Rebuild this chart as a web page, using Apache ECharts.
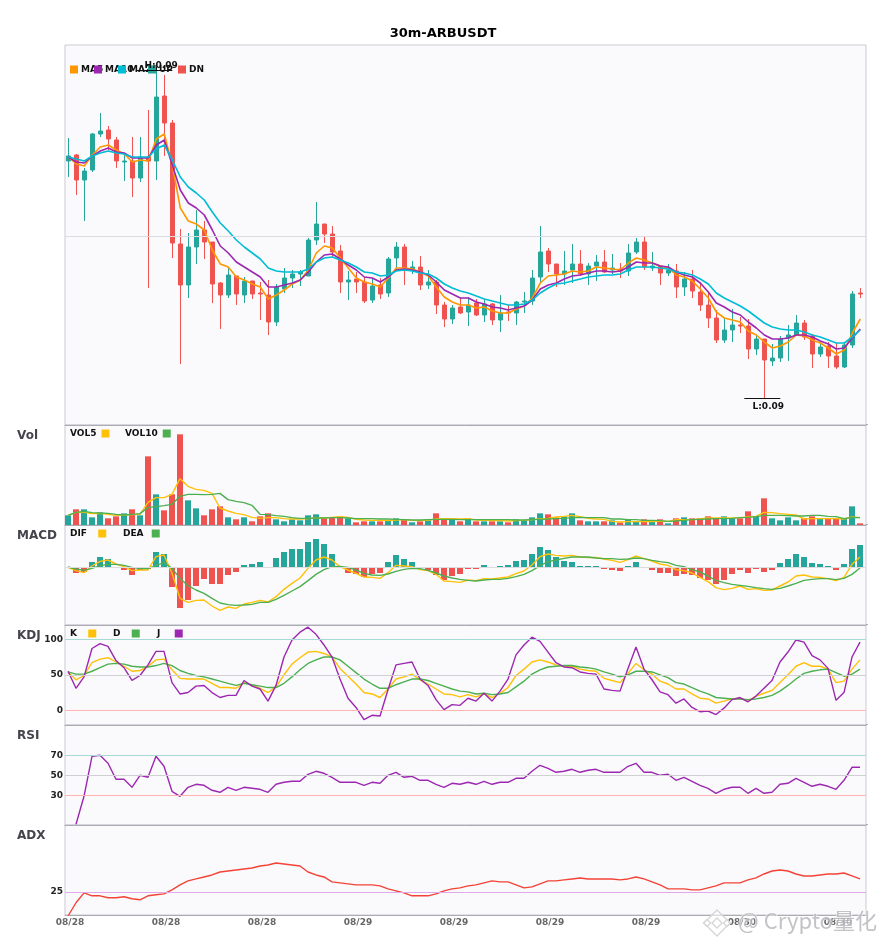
<!DOCTYPE html>
<html>
<head>
<meta charset="utf-8">
<style>html,body{margin:0;padding:0;background:#fff}#c{width:885px;height:950px}</style>
<script src="https://cdn.jsdelivr.net/npm/echarts@6/dist/echarts.min.js"></script>
</head>
<body>
<div id="c"></div>
<script>
// Prices are in units of 0.00001 USDT
const opens=[9075,9081,9056,9066,9102,9106,9096,9074,9075,9058,9079,9075,9140,9113,8992,8951,8989,9006,8994,8953,8941,8960,8941,8955,8943,8941,8914,8947,8958,8962,8960,8996,9012,9002,8985,8954,8957,8954,8936,8951,8943,8978,8989,8967,8969,8951,8954,8931,8917,8929,8924,8933,8921,8932,8916,8924,8923,8934,8935,8959,8985,8972,8962,8966,8972,8962,8970,8974,8966,8967,8965,8984,8994,8968,8970,8963,8965,8949,8957,8944,8931,8918,8896,8906,8911,8910,8887,8897,8875,8878,8898,8901,8913,8900,8882,8890,8880,8869,8891,8943];
const closes=[9080,9056,9065,9102,9105,9097,9075,9075,9058,9079,9075,9139,9113,8993,8951,8989,9006,8994,8952,8941,8961,8942,8955,8942,8942,8914,8949,8958,8962,8964,8996,9012,9002,8984,8954,8956,8954,8935,8950,8942,8977,8989,8968,8969,8951,8954,8931,8917,8928,8923,8931,8921,8932,8916,8923,8923,8934,8935,8958,8984,8972,8962,8965,8972,8962,8970,8974,8964,8968,8965,8983,8994,8969,8970,8963,8966,8949,8957,8945,8931,8918,8896,8906,8911,8910,8887,8897,8876,8878,8897,8901,8913,8899,8882,8889,8880,8869,8891,8942,8942];
const lows=[9059,9041,9015,9064,9099,9086,9068,9055,9039,9054,8948,9056,9080,8978,8872,8938,8972,8977,8933,8907,8938,8931,8933,8937,8916,8901,8910,8943,8948,8950,8960,8991,8993,8978,8943,8936,8943,8933,8933,8937,8939,8966,8951,8962,8946,8947,8922,8909,8912,8922,8910,8920,8914,8911,8904,8915,8911,8923,8931,8954,8964,8949,8951,8953,8960,8951,8955,8963,8962,8958,8960,8982,8966,8965,8951,8960,8938,8940,8938,8925,8908,8893,8893,8894,8903,8877,8881,8838,8870,8874,8875,8900,8896,8868,8879,8868,8867,8868,8888,8938];
const highs=[9098,9082,9068,9103,9123,9110,9099,9082,9099,9099,9126,9166,9161,9116,9007,9003,9026,9015,8994,8954,8968,8960,8959,8955,8954,8956,8952,8968,8966,8966,8998,9034,9012,9010,8991,8965,8964,8959,8957,8958,8979,8994,8992,8975,8980,8966,8956,8934,8931,8938,8939,8937,8937,8933,8941,8931,8935,8944,8966,9010,8988,8972,8985,8992,8986,8973,8981,8986,8982,8973,8992,8998,9000,8984,8970,8972,8972,8964,8966,8952,8944,8926,8918,8927,8919,8917,8901,8897,8892,8900,8911,8921,8916,8902,8894,8894,8893,8894,8945,8948];
const ma5=[9079,9072,9070,9081,9089,9091,9086,9082,9074,9076,9075,9097,9102,9071,9028,9015,9012,9006,8986,8972,8969,8959,8956,8952,8949,8937,8941,8946,8952,8956,8966,8983,8990,8988,8978,8968,8958,8954,8952,8949,8958,8968,8968,8967,8964,8960,8949,8939,8934,8931,8931,8928,8929,8925,8923,8923,8927,8930,8938,8953,8960,8961,8962,8965,8964,8965,8969,8968,8967,8966,8973,8978,8976,8973,8970,8968,8961,8959,8955,8947,8938,8924,8918,8916,8914,8905,8901,8894,8888,8890,8894,8901,8900,8896,8893,8888,8882,8886,8903,8917];
const ma10=[9079,9074,9073,9080,9085,9088,9084,9083,9078,9078,9078,9091,9096,9071,9046,9033,9028,9021,9006,8990,8983,8974,8969,8964,8959,8949,8949,8951,8953,8956,8964,8974,8981,8982,8977,8971,8966,8959,8958,8954,8959,8966,8967,8966,8964,8961,8954,8946,8942,8938,8938,8934,8932,8929,8928,8926,8928,8930,8936,8947,8951,8953,8957,8960,8961,8963,8965,8965,8964,8965,8969,8974,8973,8973,8970,8969,8964,8961,8959,8953,8944,8933,8929,8924,8921,8914,8908,8901,8897,8897,8898,8901,8901,8899,8895,8892,8887,8888,8898,8907];
const ma20=[9079,9077,9075,9080,9083,9085,9083,9082,9079,9079,9079,9087,9091,9076,9059,9049,9043,9036,9024,9013,9005,8996,8989,8983,8977,8968,8965,8964,8964,8964,8967,8974,8978,8979,8976,8973,8969,8964,8963,8960,8961,8965,8966,8965,8963,8962,8958,8952,8948,8945,8943,8940,8937,8935,8933,8931,8931,8932,8936,8943,8948,8952,8953,8955,8957,8959,8960,8961,8961,8962,8966,8969,8969,8969,8968,8967,8964,8963,8961,8957,8952,8943,8938,8934,8930,8925,8919,8913,8909,8907,8906,8906,8904,8901,8899,8896,8893,8893,8899,8906];
const volumes=[29,47,47,23,38,20,26,35,47,29,206,92,44,92,272,74,50,29,47,56,23,17,23,11,26,35,17,11,17,14,29,32,20,23,26,20,8,11,11,11,14,20,17,8,11,14,35,20,17,11,20,11,11,11,11,8,17,14,23,35,32,23,26,35,14,11,11,11,14,8,17,11,17,11,17,5,20,23,20,20,26,20,26,20,20,41,26,80,20,14,23,14,20,26,20,20,20,20,56,5];
const vol5=[29,38,38,34,35,32,29,30,31,32,68,82,82,92,139,116,107,104,95,51,42,35,31,23,20,22,22,19,18,18,19,21,21,23,25,23,17,15,14,14,13,15,16,14,13,14,18,19,19,18,19,15,14,13,13,12,13,14,16,18,20,24,26,29,25,20,18,17,11,9,10,10,10,10,12,11,16,16,16,18,21,21,21,21,22,24,26,38,37,34,32,30,18,19,19,19,19,18,24,22];
const vol10=[29,38,41,37,36,35,32,30,32,34,53,55,58,62,86,92,92,91,92,95,76,71,67,59,32,31,28,26,22,20,20,21,21,22,22,21,19,19,19,18,18,17,16,15,15,16,17,17,17,16,16,16,16,16,16,16,15,15,16,17,18,19,20,22,23,22,22,22,18,18,16,16,14,14,13,11,12,14,16,17,18,19,19,20,22,23,25,29,29,29,28,27,27,29,29,26,25,19,23,22];
const macdHist=[0,-18,-15,15,30,24,0,-9,-24,-9,-6,45,39,-60,-123,-99,-57,-36,-51,-51,-24,-15,6,9,15,0,27,45,54,54,75,84,69,39,-3,-18,-21,-30,-21,-18,15,36,24,15,-3,-9,-24,-39,-27,-21,-6,-6,6,0,3,6,18,21,39,60,51,30,18,15,3,3,3,-6,-9,-12,3,15,-3,-9,-18,-18,-27,-21,-24,-33,-39,-51,-39,-21,-9,-18,-6,-15,-9,12,24,39,30,12,9,3,-9,9,54,66];
const dif=[-1,-11,-17,3,17,21,9,1,-11,-9,-9,31,36,-19,-94,-106,-100,-99,-117,-130,-120,-124,-111,-106,-100,-105,-89,-67,-49,-33,-4,21,30,21,1,-9,-19,-30,-31,-34,-17,5,3,1,-8,-11,-22,-42,-44,-46,-39,-41,-35,-36,-33,-30,-20,-12,6,31,39,35,33,35,30,28,29,24,20,14,22,33,25,18,9,5,-8,-11,-18,-31,-44,-62,-68,-64,-57,-67,-65,-70,-69,-57,-45,-27,-24,-30,-31,-35,-41,-31,8,30];
const dea=[0,-6,-10,-4,4,8,8,5,-1,-5,-5,5,13,-4,-34,-56,-69,-79,-94,-108,-113,-115,-114,-112,-106,-106,-97,-85,-72,-59,-41,-22,-8,1,2,-1,-9,-19,-24,-25,-21,-13,-7,-4,-5,-10,-18,-27,-33,-37,-40,-42,-39,-37,-37,-34,-29,-22,-11,4,16,21,26,30,30,30,27,25,25,23,24,27,25,20,16,13,5,1,-8,-15,-27,-40,-47,-52,-55,-58,-62,-65,-67,-64,-57,-49,-40,-37,-35,-35,-38,-34,-22,-3];
const kdjK=[54,43,49,67,72,74,68,62,55,56,62,71,72,57,45,44,44,44,38,32,32,31,39,35,31,25,33,50,65,74,82,83,80,75,59,48,37,25,23,18,30,44,47,51,43,37,30,23,22,19,22,19,23,18,24,32,49,58,68,71,68,64,62,62,58,56,55,45,42,39,52,66,57,51,41,37,30,30,23,17,16,10,13,16,17,13,20,24,28,39,50,62,67,62,62,58,39,41,58,71];
const kdjD=[54,51,51,55,60,65,66,65,62,61,61,63,66,63,56,52,49,47,44,41,38,35,38,36,34,32,32,38,47,57,66,71,75,75,71,62,53,44,37,31,31,36,40,44,44,42,38,34,30,27,26,23,24,22,23,25,33,41,51,57,61,62,63,63,61,60,58,54,51,47,50,55,55,54,50,46,39,37,32,27,23,18,17,16,16,15,16,18,21,27,35,44,52,55,57,58,53,48,51,58];
const kdjJ=[55,31,47,87,94,90,70,60,42,49,64,83,83,39,23,25,34,35,25,18,21,21,42,34,30,13,35,75,99,110,117,107,92,75,44,17,4,-13,-7,-8,29,64,66,68,44,35,15,1,8,7,17,13,24,13,27,44,78,92,103,97,82,67,61,60,54,52,51,30,28,27,59,89,58,43,26,22,10,16,4,-2,-1,-6,3,15,18,12,20,31,42,68,82,99,96,77,71,59,14,25,75,96];
const rsi=[null,1,29,69,70,62,46,46,38,50,48,69,59,34,29,38,41,40,35,33,38,35,38,37,36,33,41,43,44,44,51,54,52,48,43,43,43,40,43,42,50,53,48,49,45,45,41,38,42,41,43,41,44,41,43,43,47,47,54,60,57,53,54,56,53,55,56,53,53,53,59,62,53,53,50,51,45,48,44,40,37,32,36,38,38,32,37,32,33,41,42,47,43,39,41,39,36,45,58,58];
const adx=[6.75,16.75,24.25,22,22,20.5,20.5,21.25,19.75,19,22,22.75,23.5,26.5,30.25,33.25,34.75,36.25,37.75,40,40.75,41.5,42.25,43,44.5,45.25,46.75,46,45.25,44.5,40,37.75,36.25,32.5,31.75,31,30.25,30.25,30.25,29.5,27.25,25.75,24.25,22,22,22,23.5,25.75,27.25,28,29.5,30.25,31.75,33.25,32.5,32.5,30.25,28,28.75,31,33.25,33.25,34,34.75,35.5,34.75,34.75,34.75,34.75,34,34.75,36.25,34.75,32.5,30.25,27.25,27.25,27.25,26.5,26.5,28,29.5,31.75,31.75,31.75,34,35.5,38.5,40.75,41.5,40.75,38.5,37,37,37.75,38.5,38.5,39.25,37,34.75];
const tickIndices=[0,12,24,36,48,60,72,84,96];
const tickLabels=['08/28','08/28','08/28','08/29','08/29','08/29','08/29','08/30','08/30'];

const UP='#26A69A', DN='#EF5350', FONT='"DejaVu Sans"';
const C={ma5:'#FF9800',ma10:'#9C27B0',ma20:'#00BCD4',k:'#FFC107',d:'#4CAF50',j:'#9C27B0',adx:'#F44336'};
const idx=opens.map((_,i)=>i);
const pts=a=>a.map((v,i)=>[i,v]);
const dirColor=i=>closes[i]>=opens[i]?UP:DN;

const gridsPos=[[45,380],[425,100],[525,100],[625,100],[725,100],[825,90]];
const grid=gridsPos.map(([top,height])=>({left:65,width:801,top,height,show:true,backgroundColor:'#FAFAFC',borderColor:'#C9C9D3',borderWidth:1}));
const xAxis=gridsPos.map((_,g)=>({
  type:'value',gridIndex:g,min:g===0?-0.4125:-0.375,max:g===0?99.7125:99.75,
  axisLine:{show:true,onZero:false,lineStyle:{color:'#ABABB3',width:1}},
  axisTick:{show:false},splitLine:{show:false},
  axisLabel:g===5?{show:true,customValues:tickIndices,margin:3,padding:[0,0,0,4],color:'#666',fontFamily:FONT,fontWeight:'bold',fontSize:9,
    formatter:v=>tickLabels[tickIndices.indexOf(v)]||''}:{show:false}
}));
const yBase=(g,min,max,labels)=>({type:'value',gridIndex:g,min,max,scale:true,
  axisLine:{show:false},axisTick:{show:false},splitLine:{show:false},
  axisLabel:labels?{show:true,customValues:labels,margin:2,color:'#222',fontFamily:FONT,fontWeight:'bold',fontSize:9}:{show:false}});
const yAxis=[yBase(0,8811,9191),yBase(1,0,300),yBase(2,-174,126),yBase(3,-20.7,120.1,[0,50,100]),yBase(4,0.3,100.3,[30,50,70]),yBase(5,7.5,75.5,[25])];

const hLines=(arr)=>({silent:true,symbol:'none',animation:false,label:{show:false},data:arr.map(([v,color])=>({yAxis:v,lineStyle:{color,width:1,type:'solid'}}))});
const line=(name,data,color,g,extra)=>Object.assign({name,type:'line',data:pts(data),xAxisIndex:g,yAxisIndex:g,showSymbol:false,symbol:'none',animation:false,
  lineStyle:{color,width:g===0?1.6:1.4},itemStyle:{color},z:3,silent:true},extra||{});

const hiI=highs.indexOf(Math.max(...highs)), loI=lows.indexOf(Math.min(...lows));
const fmtP=v=>(v/1e5).toFixed(2);
const markText={color:'#111',fontFamily:FONT,fontWeight:'bold',fontSize:9};

const series=[
  {name:'K',type:'candlestick',xAxisIndex:0,yAxisIndex:0,animation:false,silent:true,barWidth:5,z:2,
   data:idx.map(i=>[i,opens[i],closes[i],lows[i],highs[i]]),
   itemStyle:{color:UP,color0:DN,borderColor:UP,borderColor0:DN,borderWidth:1},
   markLine:{silent:true,symbol:'none',animation:false,label:{show:false},lineStyle:{color:'#111',width:1,type:'solid'},
     data:[[{coord:[hiI-2.5,highs[hiI]]},{coord:[hiI+2,highs[hiI]]}],
           [{coord:[loI-2.5,lows[loI]]},{coord:[loI+2,lows[loI]]}],
           ]},
   markPoint:{silent:true,animation:false,symbol:'circle',symbolSize:0,itemStyle:{color:'transparent'},
     data:[{coord:[hiI+0.6,highs[hiI]],label:Object.assign({show:true,position:'top',distance:0,formatter:'H:'+fmtP(highs[hiI])},markText)},
           {coord:[loI+0.5,lows[loI]],label:Object.assign({show:true,position:'bottom',distance:4,formatter:'L:'+fmtP(lows[loI])},markText)}]}},
  line('MA5',ma5,C.ma5,0,{markLine:hLines([[9000,'#DDDDE0']])}),
  line('MA10',ma10,C.ma10,0),
  line('MA20',ma20,C.ma20,0),
  {name:'UP',type:'line',data:[],itemStyle:{color:UP},xAxisIndex:0,yAxisIndex:0},
  {name:'DN',type:'line',data:[],itemStyle:{color:DN},xAxisIndex:0,yAxisIndex:0},
  {name:'Vol',type:'bar',xAxisIndex:1,yAxisIndex:1,barWidth:6,animation:false,silent:true,
   data:volumes.map((v,i)=>({value:[i,v],itemStyle:{color:dirColor(i)}}))},
  line('VOL5',vol5,C.k,1),
  line('VOL10',vol10,C.d,1),
  {name:'MACD',type:'bar',xAxisIndex:2,yAxisIndex:2,barWidth:6,animation:false,silent:true,
   data:macdHist.map((v,i)=>({value:[i,v],itemStyle:{color:v>=0?UP:DN}})),
   markLine:hLines([[0,'#DDDDE0']])},
  line('DIF',dif,C.k,2),
  line('DEA',dea,C.d,2),
  line('K ',kdjK,C.k,3),
  line('D',kdjD,C.d,3),
  line('J',kdjJ,C.j,3,{markLine:hLines([[0,'#FFB3B3'],[50,'#CFCFD4'],[100,'#A5DAD5']])}),
  line('RSI',rsi,C.j,4,{connectNulls:false,markLine:hLines([[30,'#FFB3B3'],[50,'#CFCFD4'],[70,'#A5DAD5']])}),
  line('ADX',adx,C.adx,5,{markLine:hLines([[25,'#E1A8EA']])})
];

const lg=(name,left,top,align,pad)=>({show:true,data:[name],left,top,orient:'horizontal',align,icon:'rect',itemWidth:8,itemHeight:8,selectedMode:false,padding:0,
  textStyle:{color:'#111',fontFamily:FONT,fontWeight:'bold',fontSize:9,padding:align==='left'?[0,0,0,-2]:0},
  formatter:n=>n.trim()+(pad||'')});
const legend=[
  lg('MA5',70,65,'left'),lg('MA10',94,65,'left'),lg('MA20',118,65,'left'),lg('UP',148,65,'left'),lg('DN',178,65,'left'),
  lg('VOL5',70,429,'right'),lg('VOL10',125,429,'right'),
  lg('DIF',70,529,'right','\u00A0\u00A0'),lg('DEA',123,529,'right','\u00A0'),
  lg('K ',70,629,'right','\u00A0\u00A0'),lg('D',113,629,'right','\u00A0\u00A0'),lg('J',157,629,'right','\u00A0\u00A0\u00A0')
];
const panelTitle=(text,top)=>({text,left:17,top,padding:0,textStyle:{color:'#44444C',fontFamily:FONT,fontWeight:'bold',fontSize:12}});
const title=[
  {text:'30m-ARBUSDT',left:443,top:27,padding:0,textAlign:'center',textStyle:{color:'#000',fontFamily:FONT,fontWeight:'bold',fontSize:13}},
  panelTitle('Vol',430),panelTitle('MACD',530),panelTitle('KDJ',630),panelTitle('RSI',730),panelTitle('ADX',830)
];
const diamond=(cx,cy,r)=>({type:'polygon',silent:true,z:50,shape:{points:[[cx,cy-r],[cx+r,cy],[cx,cy+r],[cx-r,cy]]},style:{fill:'rgba(255,255,255,0.55)',stroke:'#D6D6D6',lineWidth:1.4}});
const stub=y=>({type:'line',silent:true,z:5,shape:{x1:866,y1:y,x2:868,y2:y},style:{stroke:'#ABABB3',lineWidth:1}});
const graphic=[
  stub(424.5),stub(524.5),stub(624.5),stub(724.5),stub(824.5),
  diamond(717,923,13),diamond(717,923,5),diamond(707,923,3.5),diamond(727,923,3.5),
  {type:'text',silent:true,z:50,left:737,top:909,style:{text:'@ Crypto量化',fill:'rgba(170,170,175,0.7)',stroke:'rgba(255,255,255,0.55)',lineWidth:2,fontFamily:'"Noto Sans CJK SC","Noto Sans"',fontSize:22}}
];
const chart=echarts.init(document.getElementById('c'),null,{renderer:'canvas'});
chart.setOption({animation:false,backgroundColor:'#fff',title,legend,grid,xAxis,yAxis,series,graphic,tooltip:{show:false}});
</script>
</body>
</html>
